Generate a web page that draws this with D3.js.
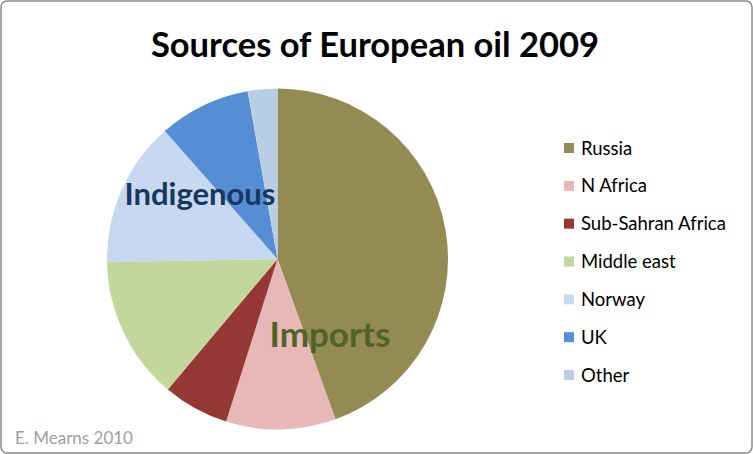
<!DOCTYPE html>
<html><head><meta charset="utf-8">
<script src="https://cdn.jsdelivr.net/npm/d3@7"></script>
<style>body{margin:0;background:#fff}svg{display:block}</style>
</head><body>
<svg id="c" width="753" height="454"></svg>
<script>
const categories = ["Russia","N Africa","Sub-Sahran Africa","Middle east","Norway","UK","Other"];
const values = [44.5, 10.4, 6.25, 13.6, 13.8, 8.7, 2.8];
const colors = ["#948A54","#E6B9B8","#953735","#C3D69B","#C6D9F1","#558ED5","#B9CDE5"];
const title = "Sources of European oil 2009";
const groupLabels = ["Indigenous","Imports"];
const credit = "E. Mearns 2010";

const font = "Lato, 'Open Sans', sans-serif";
const svg = d3.select("#c");
svg.append("rect").attr("x",1).attr("y",1).attr("width",751).attr("height",452)
  .attr("rx",6).attr("fill","#fff").attr("stroke","#8c8c8c").attr("stroke-width",1.5);

svg.append("text").attr("x",375).attr("y",57).attr("text-anchor","middle")
  .attr("font-family",font).attr("font-weight","bold").attr("font-size",34.5)
  .attr("fill","#000").text(title);

const cx=277.5, cy=259, r=170.5;
const pie = d3.pie().sort(null).value(d=>d)(values);
const arc = d3.arc().innerRadius(0).outerRadius(r);
const g = svg.append("g").attr("transform",`translate(${cx},${cy})`);
g.selectAll("path").data(pie).join("path").attr("d",arc)
  .attr("fill",(d,i)=>colors[i]);

svg.append("text").attr("x",200).attr("y",205).attr("text-anchor","middle")
  .attr("font-family",font).attr("font-weight","bold").attr("font-size",31)
  .attr("fill","#17375E").text(groupLabels[0]);
svg.append("text").attr("x",330).attr("y",347).attr("text-anchor","middle")
  .attr("font-family",font).attr("font-weight","bold").attr("font-size",35)
  .attr("fill","#4F6228").text(groupLabels[1]);

const ly = d3.scalePoint().domain(categories).range([148,375]);
const leg = svg.append("g");
categories.forEach((c,i)=>{
  leg.append("rect").attr("x",564).attr("y",ly(c)-5).attr("width",10).attr("height",10).attr("fill",colors[i]);
  leg.append("text").attr("x",581).attr("y",ly(c)+6.5).attr("font-family",font).attr("font-size",18.5)
    .attr("fill","#000").text(c);
});

svg.append("text").attr("x",15).attr("y",444).attr("font-family",font).attr("font-size",17)
  .attr("fill","#a0a0a0").text(credit);
</script>
</body></html>
